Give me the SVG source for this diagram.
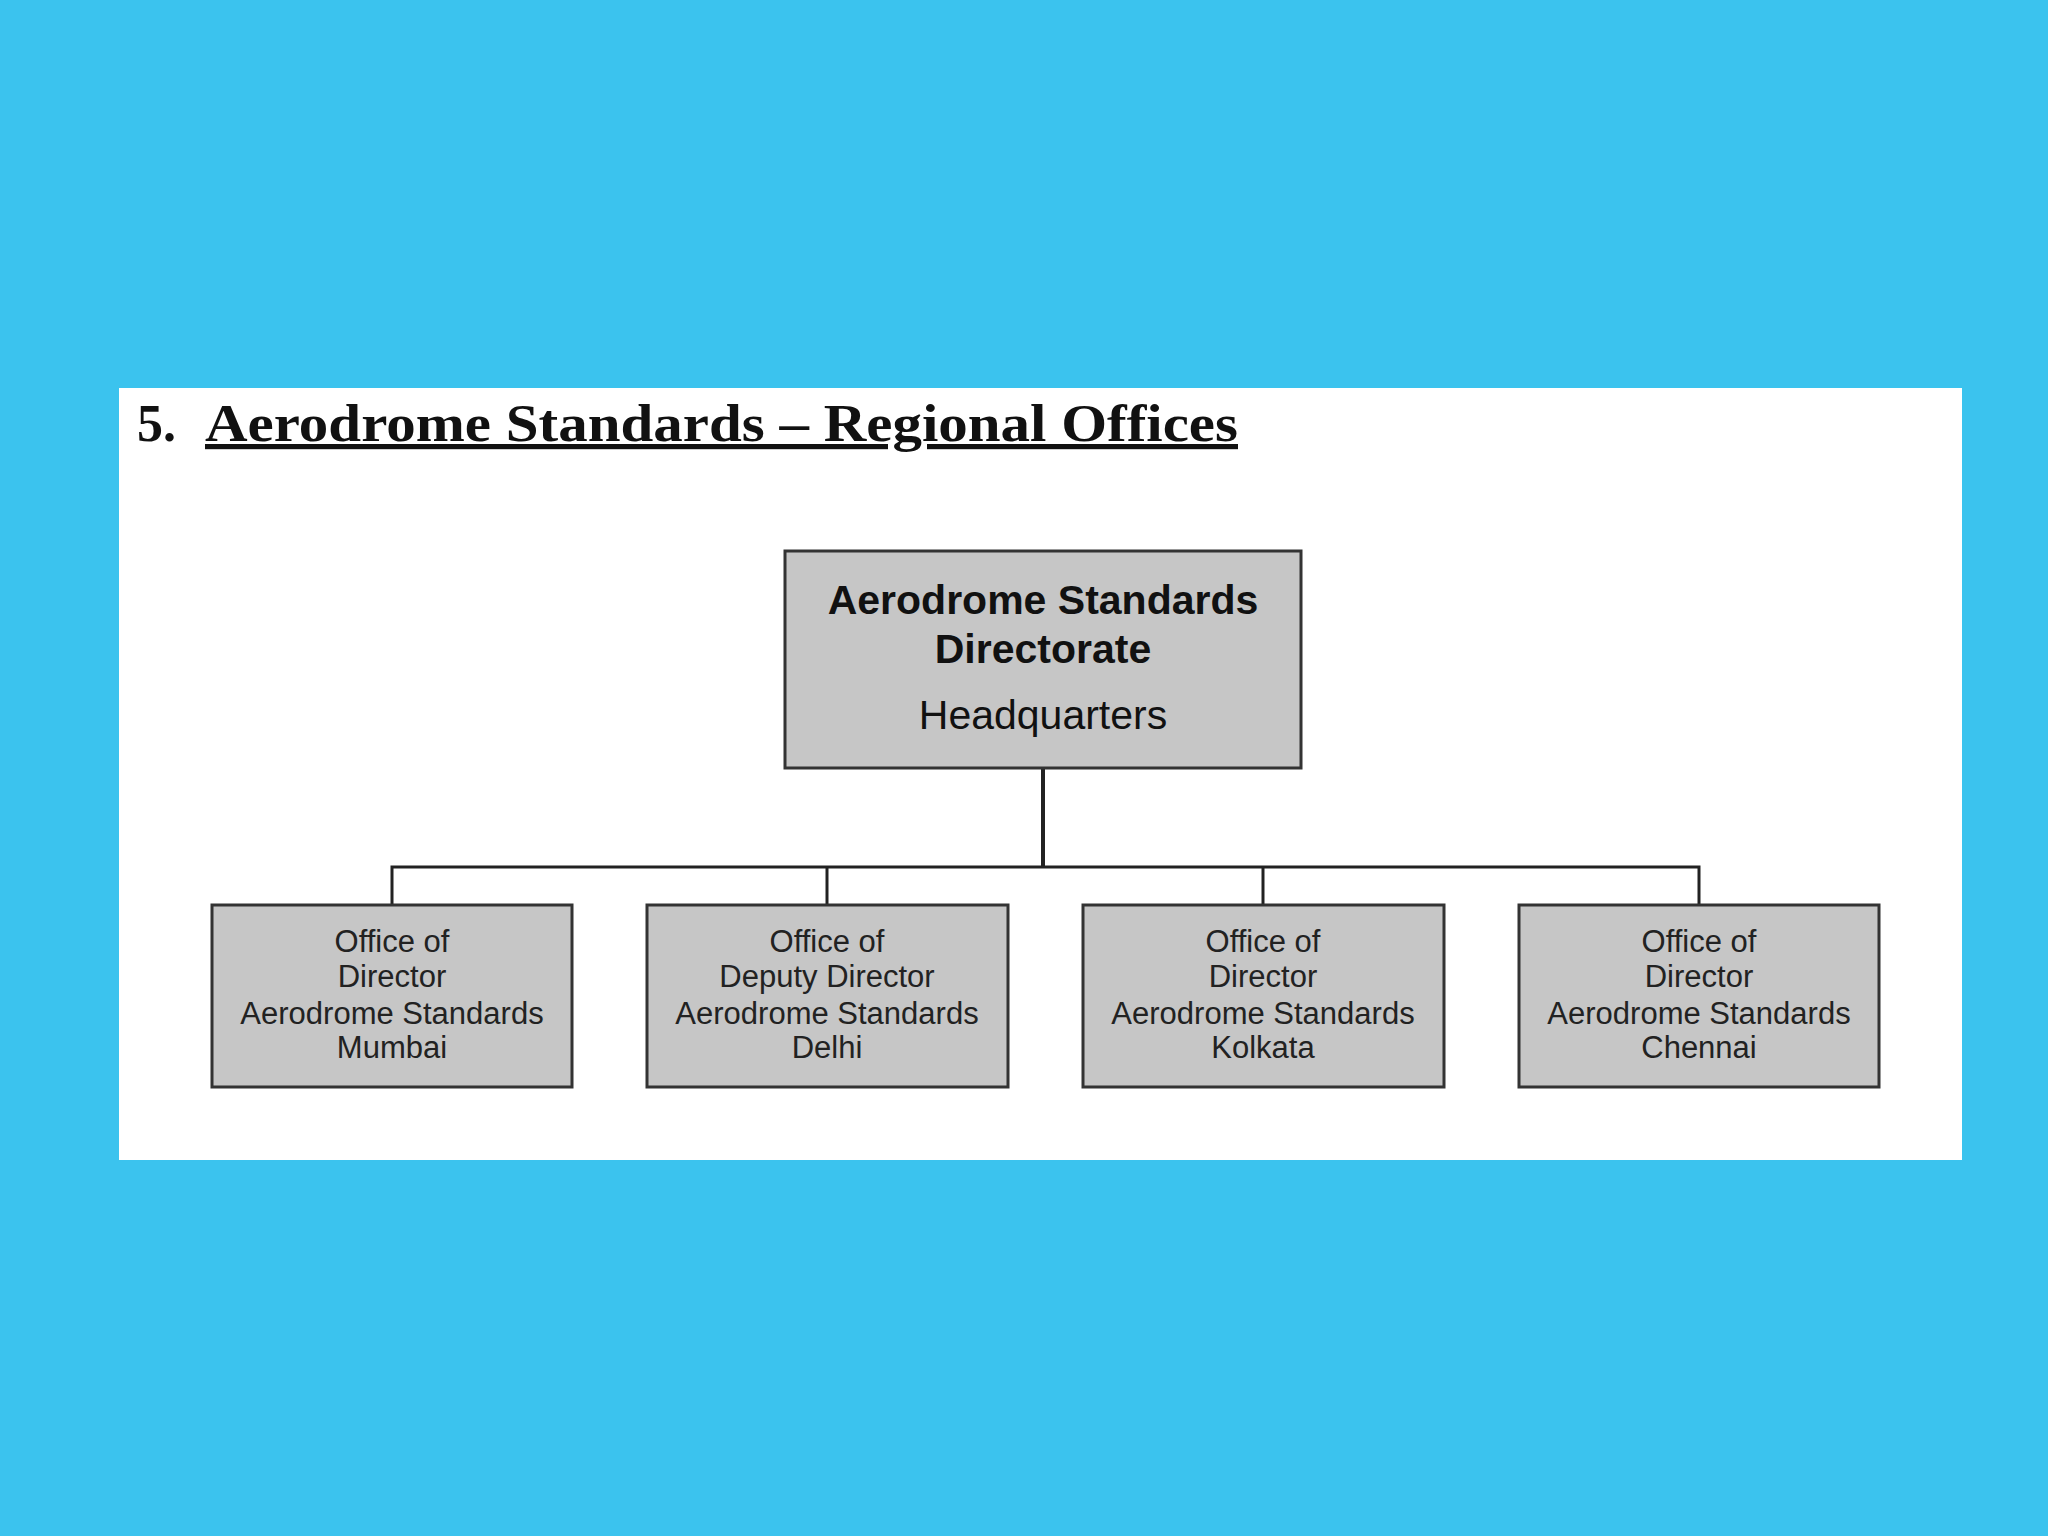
<svg xmlns="http://www.w3.org/2000/svg" width="2048" height="1536" viewBox="0 0 2048 1536">
<style>
.box{fill:#c6c6c6;stroke:#333;stroke-width:3}
.c{font-family:"Liberation Sans",Arial,sans-serif;font-size:31px;fill:#222;text-anchor:middle}
.h{font-family:"Liberation Sans",Arial,sans-serif;fill:#111;text-anchor:middle}
.ln{stroke:#222;fill:none}
</style>
<rect width="2048" height="1536" fill="#3bc3ee"/>
<rect x="119" y="388" width="1843" height="772" fill="#fff"/>
<text x="137" y="441" font-family="'Liberation Serif',serif" font-weight="bold" font-size="52" fill="#111">5.</text>
<text x="205" y="441" font-family="'Liberation Serif',serif" font-weight="bold" font-size="52" fill="#111" text-decoration="underline" textLength="1033" lengthAdjust="spacingAndGlyphs">Aerodrome Standards – Regional Offices</text>
<g id="connectors">
<line class="ln" x1="1043" y1="768" x2="1043" y2="867" stroke-width="4"/>
<polyline class="ln" stroke-width="3" points="392,905 392,867 1699,867 1699,905"/>
<line class="ln" stroke-width="3" x1="827" y1="867" x2="827" y2="905"/>
<line class="ln" stroke-width="3" x1="1263" y1="867" x2="1263" y2="905"/>
</g>
<g id="hq">
<rect class="box" x="785" y="551" width="516" height="217"/>
<text class="h" x="1043" y="614" font-size="41" font-weight="bold">Aerodrome Standards</text>
<text class="h" x="1043" y="663" font-size="41" font-weight="bold">Directorate</text>
<text class="h" x="1043" y="729" font-size="41">Headquarters</text>
</g>
<g id="mumbai">
<rect class="box" x="212" y="905" width="360" height="182"/>
<text class="c" x="392" y="952">Office of</text><text class="c" x="392" y="987">Director</text><text class="c" x="392" y="1024">Aerodrome Standards</text><text class="c" x="392" y="1058">Mumbai</text>
</g>
<g id="delhi">
<rect class="box" x="647" y="905" width="361" height="182"/>
<text class="c" x="827" y="952">Office of</text><text class="c" x="827" y="987">Deputy Director</text><text class="c" x="827" y="1024">Aerodrome Standards</text><text class="c" x="827" y="1058">Delhi</text>
</g>
<g id="kolkata">
<rect class="box" x="1083" y="905" width="361" height="182"/>
<text class="c" x="1263" y="952">Office of</text><text class="c" x="1263" y="987">Director</text><text class="c" x="1263" y="1024">Aerodrome Standards</text><text class="c" x="1263" y="1058">Kolkata</text>
</g>
<g id="chennai">
<rect class="box" x="1519" y="905" width="360" height="182"/>
<text class="c" x="1699" y="952">Office of</text><text class="c" x="1699" y="987">Director</text><text class="c" x="1699" y="1024">Aerodrome Standards</text><text class="c" x="1699" y="1058">Chennai</text>
</g>
</svg>
